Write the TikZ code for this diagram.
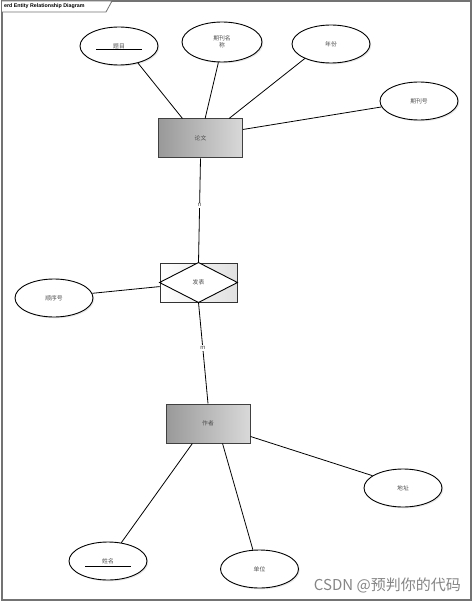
\documentclass[tikz,border=0pt]{standalone}
\usepackage{fontspec}
\setmainfont{Liberation Sans}
\newfontfamily\cjk{Noto Sans CJK SC}
\usetikzlibrary{shapes.geometric, shadows}

\begin{document}
\begin{tikzpicture}[x=1pt, y=-1pt,
    every node/.style={font=\cjk\fontsize{5.8}{7}\selectfont, text=black!70},
    attr/.style={draw, ellipse, line width=0.9pt, fill=white, minimum width=78pt, minimum height=38pt, inner sep=0pt,
        drop shadow={opacity=0.18, shadow xshift=1.3pt, shadow yshift=-1.3pt}},
    entity/.style={draw=black!75, line width=1pt, left color=black!40, right color=black!15, minimum width=84pt, minimum height=39pt},
    link/.style={line width=0.8pt},
    card/.style={font=\fontsize{6}{7}\selectfont, text=black!75, fill=white, inner sep=1pt, pos=0.45}]
    \useasboundingbox (0,0) rectangle (474,604);
    % frame and tab
    \draw[black!55, line width=2.4pt] (2,1) rectangle (471,600);
    \draw[black!55, line width=0.8pt, fill=white] (2,1) -- (112,1) -- (106,12) -- (2,12);
    \node[font=\bfseries\fontsize{5.3}{6}\selectfont, text=black, anchor=west, inner sep=0pt] (tab) at (4,6.5) {erd Entity Relationship Diagram};
    % entities
    \node[entity] (paper) at (200.5,138.5) {论文};
    \node[entity] (author) at (208,423.5) {作者};
    % relationship
    \node[draw=black!80, line width=0.9pt, left color=white, right color=black!12, minimum width=77pt, minimum height=39pt] (pub) at (198.5,282.5) {};
    \draw[line width=0.9pt, fill=white] (pub.north) -- (pub.east) -- (pub.south) -- (pub.west) -- cycle;
    \node (pubtext) at (pub.center) {发表};
    % attributes
    \node[attr] (title) at (119,46) {题目};
    \draw[line width=0.8pt] ([xshift=-23pt,yshift=-3pt]title.center) -- ([xshift=23pt,yshift=-3pt]title.center);
    \node[attr, align=center, minimum width=80pt, minimum height=40pt] (jname) at (222,42) {期刊名\\称};
    \node[attr] (year) at (331,44) {年份};
    \node[attr] (jno) at (419,101) {期刊号};
    \node[attr] (seq) at (54,298) {顺序号};
    \node[attr] (addr) at (403,488) {地址};
    \node[attr] (name) at (108,561) {姓名};
    \draw[line width=0.8pt] ([xshift=-23pt,yshift=-5pt]name.center) -- ([xshift=23pt,yshift=-5pt]name.center);
    \node[attr] (unit) at (259.5,569) {单位};
    % connectors
    \draw[link] (title.-42) -- (paper.132);
    \draw[link] (jname.-100) -- (paper.77);
    \draw[link] (year.-151) -- (paper.35);
    \draw[link] (jno.-171) -- (paper.12.6);
    \draw[link] (paper.south) -- node[card] (n) {n} (pub.north);
    \draw[link] (seq.7) -- (pub.186.7);
    \draw[link] (pub.south) -- node[card] (m) {m} (author.north);
    \draw[link] (author.-17.8) -- (addr.158);
    \draw[link] (author.-128) -- (name.54);
    \draw[link] (author.-54) -- (unit.109);
    % watermark
    \node[font=\cjk\fontsize{15}{16}\selectfont, text=black!48, anchor=east, inner sep=0pt] (mark) at (461,585) {CSDN @预判你的代码};
\end{tikzpicture}
\end{document}
